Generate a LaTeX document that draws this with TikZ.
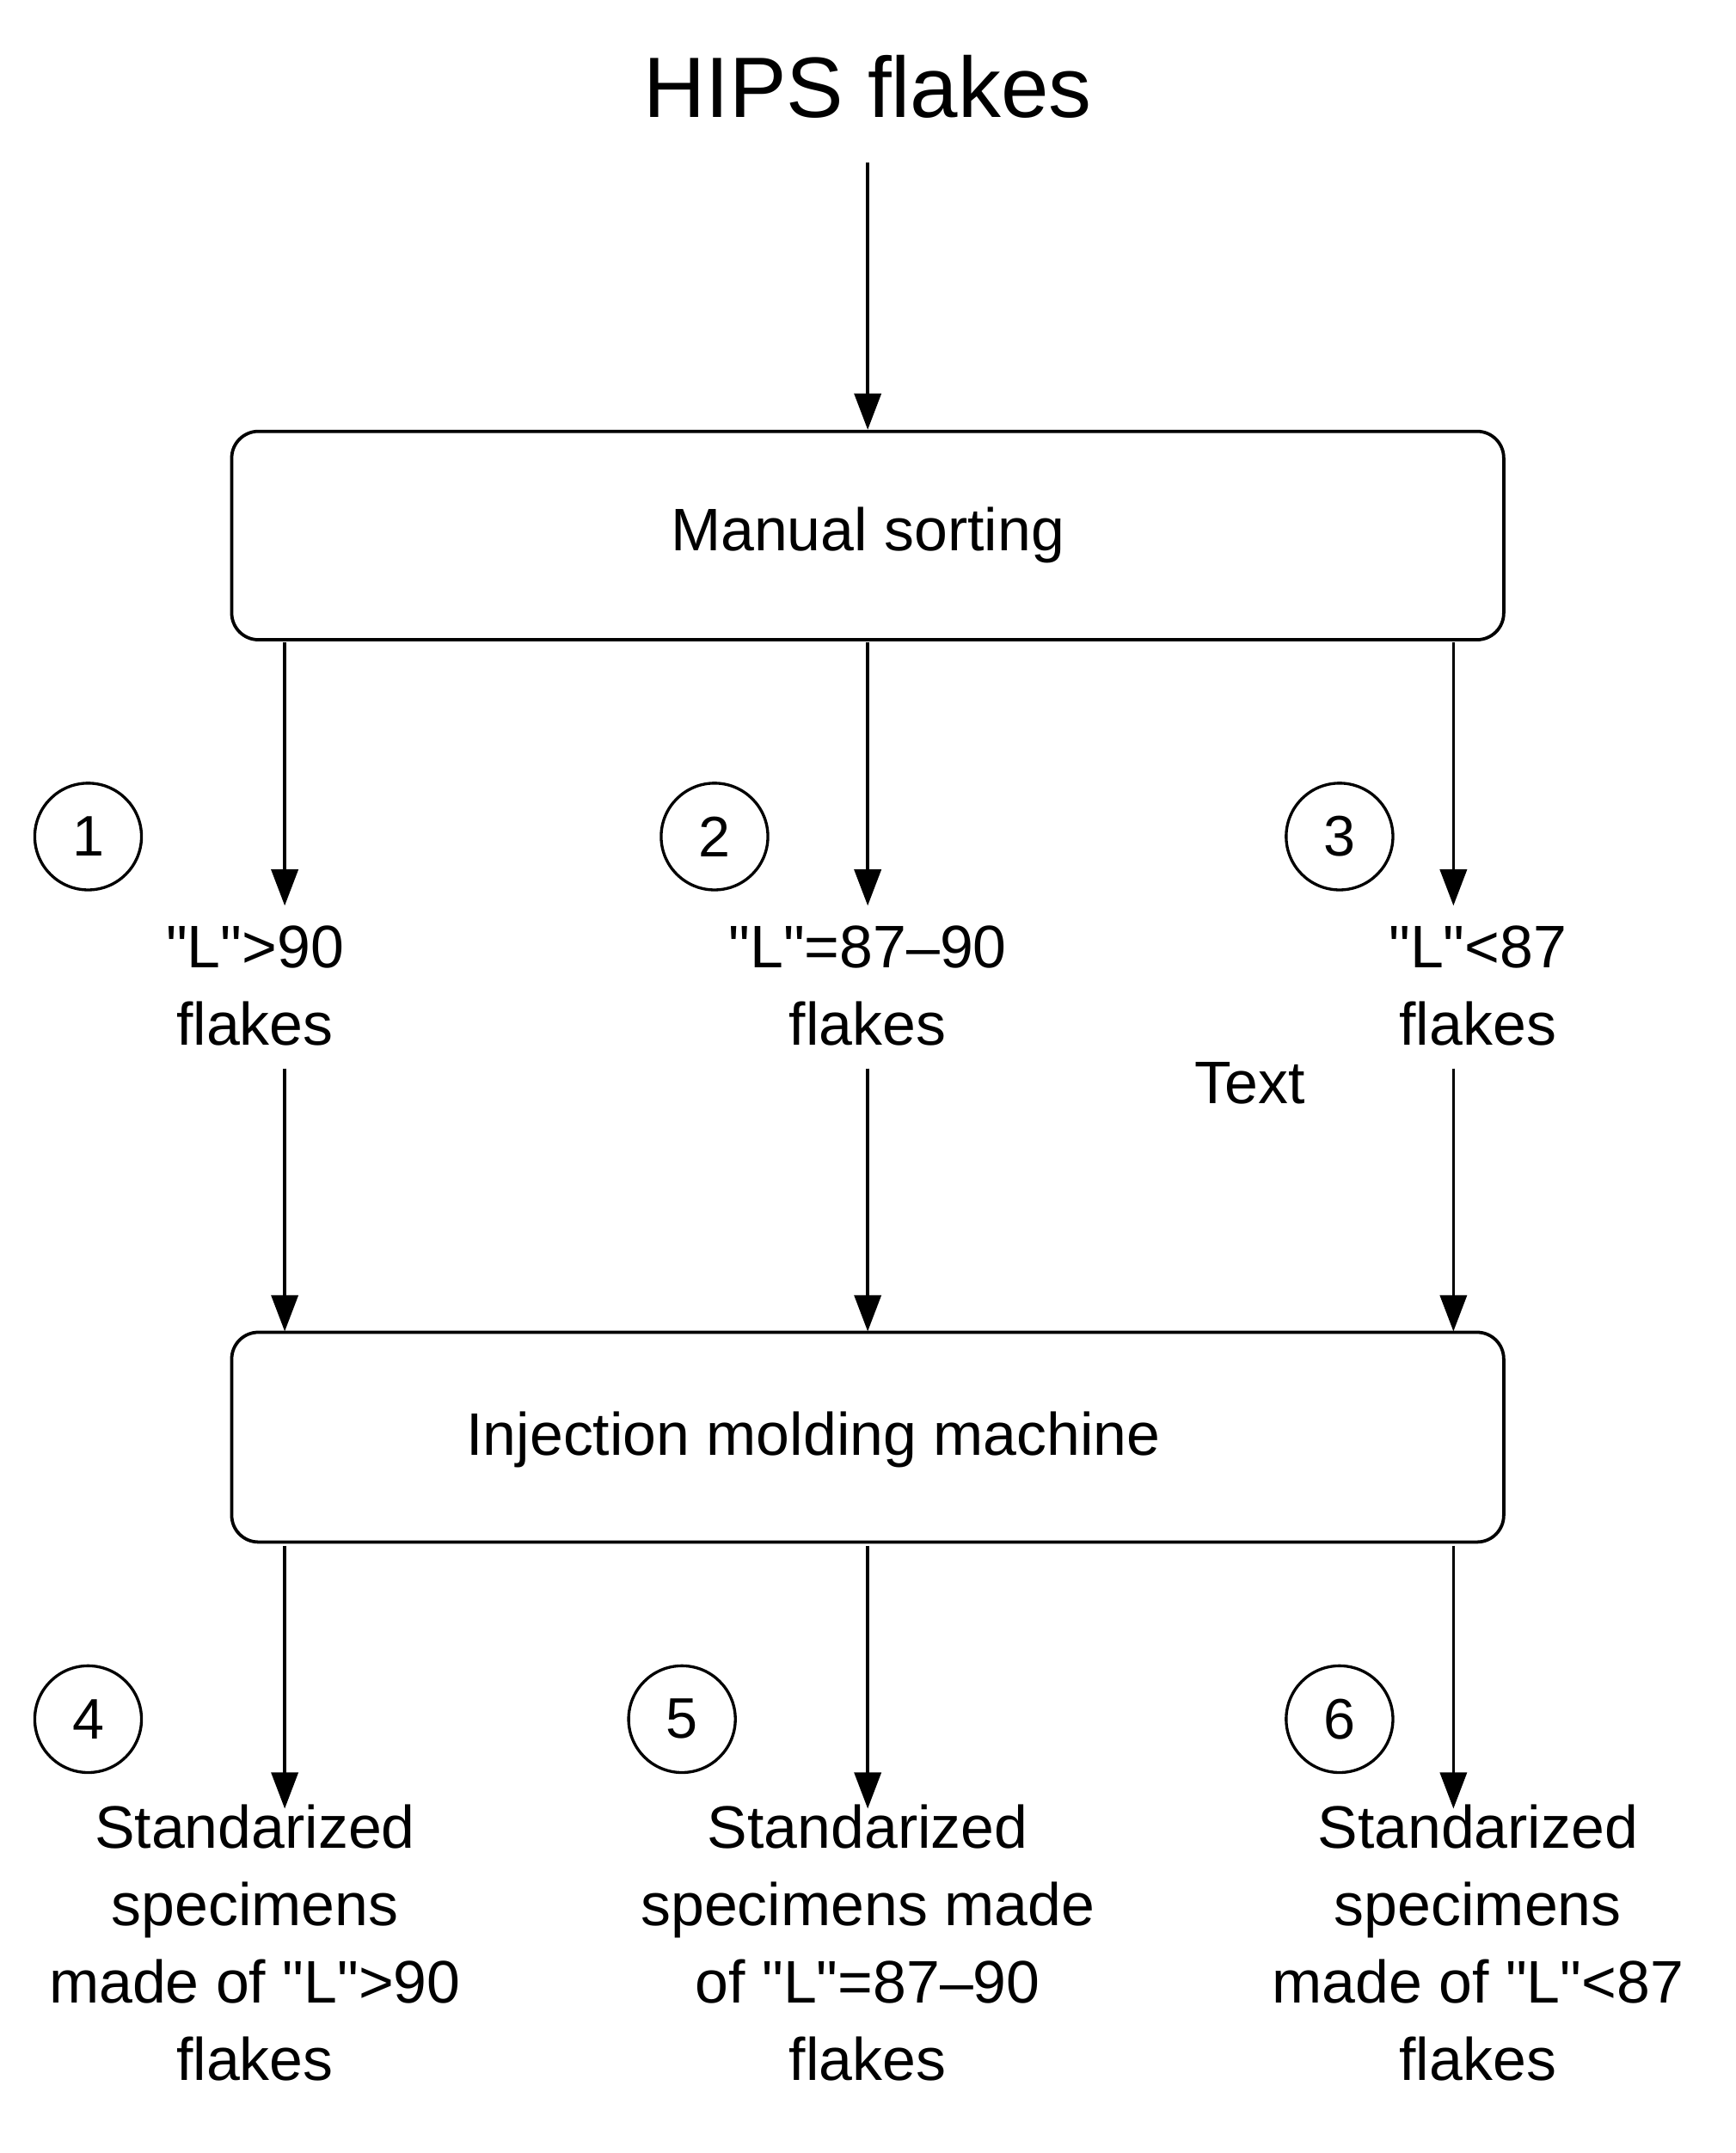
\documentclass[tikz,border=0pt]{standalone}
\usepackage{fontspec}
\setmainfont{Liberation Sans}
\usetikzlibrary{arrows.meta}
\newcommand{\qq}{\textquotedbl}
\begin{document}
\begin{tikzpicture}[x=0.05cm,y=-0.05cm,
  line width=3.2pt,
  arr/.style={-{Triangle[length=38pt,width=28pt]}},
  box/.style={draw,rounded corners=28pt,line width=3.4pt},
  lbl/.style={font=\fontsize{63}{81}\selectfont,align=center,inner sep=0pt},
  num/.style={draw,circle,minimum size=112pt,inner sep=0pt,line width=3pt,font=\fontsize{60}{60}\selectfont}]
\useasboundingbox (0,0) rectangle (1280,1588);
\node[lbl,font=\fontsize{90}{100}\selectfont] (hips) at (640,64) {HIPS flakes};
\node[box,minimum width=940*1.42pt,minimum height=154*1.42pt] (ms) at (640,395) {};
\node[lbl] at (640,395) {Manual sorting};
\node[box,minimum width=940*1.42pt,minimum height=155*1.42pt] (im) at (640,1060) {};
\node[lbl] at (600,1062) {Injection molding machine};
\coordinate (t0) at (640,120);
\draw[arr] (t0) -- (ms.north);
\node[num] (c1) at (65,617) {1};
\node[num] (c2) at (527,617) {2};
\node[num] (c3) at (988,617) {3};
\node[lbl] (l1) at (188,727) {\qq L\qq>90\\flakes};
\node[lbl] (l2) at (640,727) {\qq L\qq=87–90\\flakes};
\node[lbl] (l3) at (1090,727) {\qq L\qq<87\\flakes};
\node[lbl] (tx) at (922,799) {Text};
\foreach \x/\n in {210/1,640/2,1072/3}{
  \coordinate (a\n) at (\x,474); \coordinate (b\n) at (\x,668);
  \coordinate (c\n') at (\x,788); \coordinate (d\n) at (\x,982);
  \coordinate (e\n) at (\x,1140); \coordinate (f\n) at (\x,1334);
  \draw[arr] (a\n) -- (b\n);
  \draw[arr] (c\n') -- (d\n);
  \draw[arr] (e\n) -- (f\n);
}
\node[num] (c4) at (65,1268) {4};
\node[num] (c5) at (503,1268) {5};
\node[num] (c6) at (988,1268) {6};
\node[lbl] (s1) at (188,1433) {Standarized\\specimens\\made of \qq L\qq>90\\flakes};
\node[lbl] (s2) at (640,1433) {Standarized\\specimens made\\of \qq L\qq=87–90\\flakes};
\node[lbl] (s3) at (1090,1433) {Standarized\\specimens\\made of \qq L\qq<87\\flakes};
\end{tikzpicture}
\end{document}
